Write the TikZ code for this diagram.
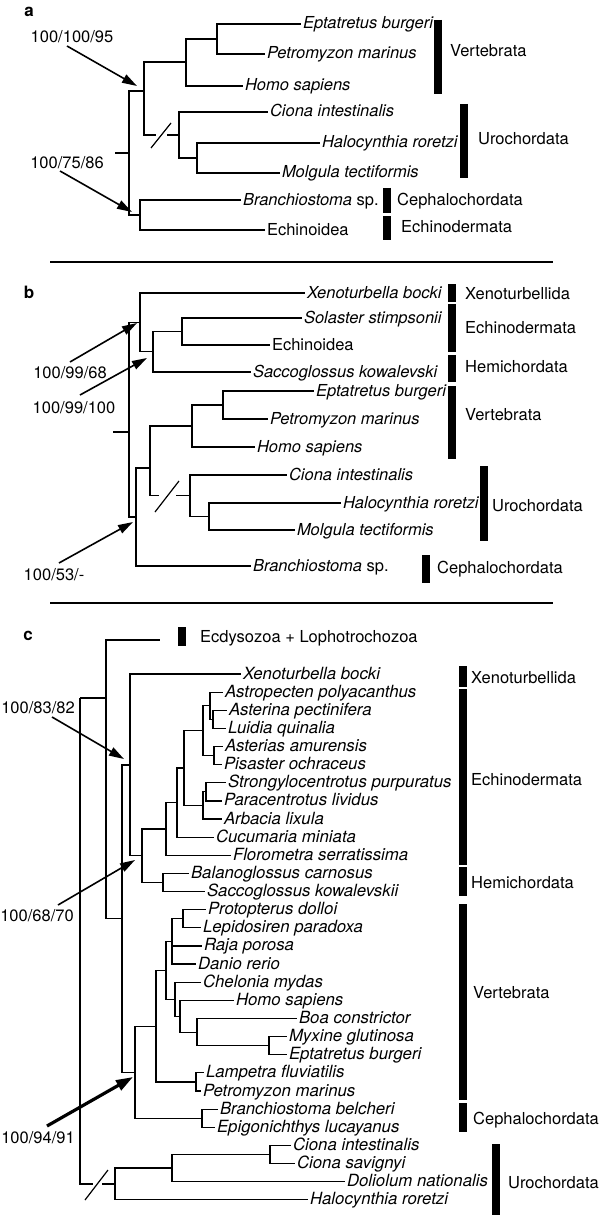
\documentclass[tikz,border=0pt]{standalone}
\usepackage{fontspec}
\setmainfont{TeX Gyre Heros}
\usetikzlibrary{arrows.meta}

\tikzset{
  br/.style={line width=1.2pt},
  leaf/.style={anchor=west, inner sep=0pt, outer xsep=2pt, text height=10pt, text depth=0pt,
    font=\fontsize{16.5}{19}\selectfont\itshape},
  leafc/.style={leaf, font=\fontsize{16.8}{19}\selectfont\itshape},
  clade/.style={anchor=west, inner sep=0pt, text height=10pt, text depth=0pt,
    font=\fontsize{16.5}{19}\selectfont},
  boot/.style={inner sep=0pt, font=\fontsize{16.5}{19}\selectfont},
  bar/.style={line width=7.5pt},
  arr/.style={line width=1.6pt, -{Triangle[length=15pt,width=9pt]}},
  bigarr/.style={line width=3.2pt, -{Triangle[length=17pt,width=11pt]}},
  panel/.style={inner sep=0pt, font=\fontsize{17}{19}\selectfont\bfseries},
  sepline/.style={line width=1.5pt}
}

\begin{document}
\begin{tikzpicture}[x=1pt,y=-1pt]
  \useasboundingbox (0,0) rectangle (600,1217);

  % ---------------- panel a
  \node[panel] (pa) at (29,12) {a};
  \node[leaf] (a1) at (301,24) {Eptatretus burgeri};
  \node[leaf] (a2) at (265,54) {Petromyzon marinus};
  \node[leaf] (a3) at (243,86) {Homo sapiens};
  \node[leaf] (a4) at (268,112) {Ciona intestinalis};
  \node[leaf] (a5) at (320,143) {Halocynthia roretzi};
  \node[leaf] (a6) at (280,173) {Molgula tectiformis};
  \node[leaf] (a7) at (241,200) {Branchiostoma \upshape sp.};
  \node[leaf] (a8) at (265,230) {\upshape Echinoidea};

  \coordinate (na12) at (217,39);
  \coordinate (na123) at (186,62);
  \coordinate (na56) at (197,158);
  \coordinate (na456) at (179,135);
  \coordinate (na16) at (144,91);
  \coordinate (na78) at (140,215);
  \coordinate (ra) at (129,153);
  \coordinate (ra0) at (115,153);
  \coordinate (ka1) at (156,135);
  \coordinate (ka2) at (167,135);

  \draw[br] (na12) |- (a1.west) (na12) |- (a2.west);
  \draw[br] (na123) |- (na12) (na123) |- (a3.west);
  \draw[br] (na56) |- (a5.west) (na56) |- (a6.west);
  \draw[br] (na456) |- (a4.west) (na456) |- (na56);
  \draw[br] (na16) |- (na123) (na16) |- (ka1);
  \draw[br] (ka2) -- (na456);
  \draw[br] (151,148) -- (171,123);
  \draw[br] (na78) |- (a7.west) (na78) |- (a8.west);
  \draw[br] (ra0) -- (ra) (ra) |- (na16) (ra) |- (na78);

  \draw[bar] (438,20) -- (438,94);
  \node[clade] (va) at (450,52) {Vertebrata};
  \draw[bar] (464,104) -- (464,178);
  \node[clade] (ua) at (478,140) {Urochordata};
  \draw[bar] (387,188) -- (387,213);
  \node[clade] (cpa) at (397,200) {Cephalochordata};
  \draw[bar] (387,216) -- (387,240);
  \node[clade] (ea) at (401,227) {Echinodermata};

  \node[boot] (s1) at (72,37) {100/100/95};
  \coordinate (t1) at (67,46);
  \coordinate (h1) at (137,86);
  \draw[arr] (t1) -- (h1);
  \node[boot] (s2) at (67,163) {100/75/86};
  \coordinate (t2) at (60,171);
  \coordinate (h2) at (132,212);
  \draw[arr] (t2) -- (h2);

  \draw[sepline] (50,262) -- (553,262);

  % ---------------- panel b
  \node[panel] (pb) at (29,292) {b};
  \node[leaf] (b1) at (305,293) {Xenoturbella bocki};
  \node[leaf] (b2) at (302,318) {Solaster stimpsonii};
  \node[leaf] (b3) at (270,345) {\upshape Echinoidea};
  \node[leaf] (b4) at (251,372) {Saccoglossus kowalevski};
  \node[leaf] (b5) at (314,391) {Eptatretus burgeri};
  \node[leaf] (b6) at (268,419) {Petromyzon marinus};
  \node[leaf] (b7) at (255,447) {Homo sapiens};
  \node[leaf] (b8) at (287,475) {Ciona intestinalis};
  \node[leaf] (b9) at (341,503) {Halocynthia roretzi};
  \node[leaf] (b10) at (295,530) {Molgula tectiformis};
  \node[leaf] (b11) at (251,566) {Branchiostoma \upshape sp.};

  \coordinate (nb23) at (182,331.5);
  \coordinate (nb234) at (153,351.75);
  \coordinate (nb14) at (140,322.4);
  \coordinate (nb56) at (223,405);
  \coordinate (nb567) at (192,426);
  \coordinate (nb910) at (209,516.5);
  \coordinate (nb810) at (190,495.75);
  \coordinate (nb510) at (150,468);
  \coordinate (nb511) at (136,517);
  \coordinate (rb) at (129,432);
  \coordinate (rb0) at (113,432);
  \coordinate (kb1) at (159,495.75);
  \coordinate (kb2) at (176,495.75);

  \draw[br] (nb23) |- (b2.west) (nb23) |- (b3.west);
  \draw[br] (nb234) |- (nb23) (nb234) |- (b4.west);
  \draw[br] (nb14) |- (b1.west) (nb14) |- (nb234);
  \draw[br] (nb56) |- (b5.west) (nb56) |- (b6.west);
  \draw[br] (nb567) |- (nb56) (nb567) |- (b7.west);
  \draw[br] (nb910) |- (b9.west) (nb910) |- (b10.west);
  \draw[br] (nb810) |- (b8.west) (nb810) |- (nb910);
  \draw[br] (kb2) -- (nb810);
  \draw[br] (155,512) -- (179,481);
  \draw[br] (nb510) |- (nb567) (nb510) |- (kb1);
  \draw[br] (nb511) |- (nb510) (nb511) |- (b11.west);
  \draw[br] (rb0) -- (rb) (rb) |- (nb14) (rb) |- (nb511);

  \draw[bar] (452,284) -- (452,302);
  \node[clade] (xb) at (465,294) {Xenoturbellida};
  \draw[bar] (452,304) -- (452,352);
  \node[clade] (eb) at (465,328) {Echinodermata};
  \draw[bar] (452,355) -- (452,382);
  \node[clade] (hb) at (465,367) {Hemichordata};
  \draw[bar] (452,386) -- (452,459);
  \node[clade] (vb) at (465,415) {Vertebrata};
  \draw[bar] (484,466) -- (484,541);
  \node[clade] (ub) at (492,506) {Urochordata};
  \draw[bar] (426,555) -- (426,583);
  \node[clade] (cpb) at (437,568) {Cephalochordata};

  \node[boot] (s3) at (70,373) {100/99/68};
  \coordinate (t3) at (70,362);
  \coordinate (h3) at (137,323);
  \draw[arr] (t3) -- (h3);
  \node[boot] (s4) at (74,408) {100/99/100};
  \coordinate (t4) at (80,395);
  \coordinate (h4) at (147,358);
  \draw[arr] (t4) -- (h4);
  \node[boot] (s5) at (54,575) {100/53/-};
  \coordinate (t5) at (59,563);
  \coordinate (h5) at (133,522);
  \draw[arr] (t5) -- (h5);

  \draw[sepline] (50,603) -- (553,603);

  % ---------------- panel c
  \node[panel] (pc) at (28,636) {c};
  \foreach \i/\xx/\txt in {0/241/Xenoturbella bocki, 1/223/Astropecten polyacanthus,
      2/227/Asterina pectinifera, 3/226/Luidia quinalia, 4/223/Asterias amurensis,
      5/222/Pisaster ochraceus, 6/226/Strongylocentrotus purpuratus,
      7/222/Paracentrotus lividus, 8/222/Arbacia lixula, 9/214/Cucumaria miniata,
      10/231/Florometra serratissima, 11/189/Balanoglossus carnosus,
      12/205/Saccoglossus kowalevskii, 13/206/Protopterus dolloi,
      14/201/Lepidosiren paradoxa, 15/202/Raja porosa, 16/196/Danio rerio,
      17/201/Chelonia mydas, 18/234/Homo sapiens, 19/297/Boa constrictor,
      20/287/Myxine glutinosa, 21/287/Eptatretus burgeri, 22/204/Lampetra fluviatilis,
      23/201/Petromyzon marinus, 24/218/Branchiostoma belcheri,
      25/215/Epigonichthys lucayanus, 26/291/Ciona intestinalis,
      27/295/Ciona savignyi, 28/345/Doliolum nationalis, 29/308/Halocynthia roretzi}
    \node[leafc] (c\i) at (\xx,{674+18.13*\i}) {\txt};

  \node[clade] (ecl) at (200,637) {Ecdysozoa + Lophotrochozoa};
  \draw[bar] (182,627) -- (182,646);
  \coordinate (ecd) at (160,640);

  \coordinate (nc23) at (213,719.35);
  \coordinate (nc123) at (210,705.7);
  \coordinate (nc45) at (214,755.6);
  \coordinate (nc15) at (203,730.7);
  \coordinate (nc67) at (206,791.85);
  \coordinate (nc68) at (203,805.4);
  \coordinate (nc18) at (184,768);
  \coordinate (nc19) at (177,802.6);
  \coordinate (nc110) at (166,829);
  \coordinate (nc1112) at (163,882.5);
  \coordinate (nc112) at (142,855.7);
  \coordinate (nc012) at (130,764.9);
  \coordinate (nc1314) at (183,918.8);
  \coordinate (nc1316) at (172,941.4);
  \coordinate (nc2021) at (269,1045.7);
  \coordinate (nc1921) at (197,1032.1);
  \coordinate (nc1821) at (180,1016.2);
  \coordinate (nc1721) at (175,999.2);
  \coordinate (nc1321) at (166,970.3);
  \coordinate (nc2223) at (196,1082);
  \coordinate (nc1323) at (156,1026.1);
  \coordinate (nc2425) at (202,1118.2);
  \coordinate (nc1325) at (135,1072.2);
  \coordinate (nc025) at (122,918.5);
  \coordinate (ncE) at (106,698);
  \coordinate (nc2627) at (270,1154.5);
  \coordinate (nc2628) at (172,1168);
  \coordinate (nc2629) at (115,1183.9);
  \coordinate (rc) at (80,698);
  \coordinate (kc1) at (93,1183.9);
  \coordinate (kc2) at (102,1183.9);

  % echinoderms + hemichordates
  \draw[br] (nc23) |- (c2.west) (nc23) |- (c3.west);
  \draw[br] (nc123) |- (c1.west) (nc123) |- (nc23);
  \draw[br] (nc45) |- (c4.west) (nc45) |- (c5.west);
  \draw[br] (nc15) |- (nc123) (nc15) |- (nc45);
  \draw[br] (nc67) |- (c6.west) (nc67) |- (c7.west);
  \draw[br] (nc68) |- (nc67) (nc68) |- (c8.west);
  \draw[br] (nc18) |- (nc15) (nc18) |- (nc68);
  \draw[br] (nc19) |- (nc18) (nc19) |- (c9.west);
  \draw[br] (nc110) |- (nc19) (nc110) |- (c10.west);
  \draw[br] (nc1112) |- (c11.west) (nc1112) |- (c12.west);
  \draw[br] (nc112) |- (nc110) (nc112) |- (nc1112);
  \draw[br] (nc012) |- (c0.west) (nc012) |- (nc112);
  % vertebrates + cephalochordates
  \draw[br] (nc1314) |- (c13.west) (nc1314) |- (c14.west);
  \draw[br] (nc1316) |- (nc1314) (nc1316) |- (c15.west) (nc1316) |- (c16.west);
  \draw[br] (nc2021) |- (c20.west) (nc2021) |- (c21.west);
  \draw[br] (nc1921) |- (c19.west) (nc1921) |- (nc2021);
  \draw[br] (nc1821) |- (c18.west) (nc1821) |- (nc1921);
  \draw[br] (nc1721) |- (c17.west) (nc1721) |- (nc1821);
  \draw[br] (nc1321) |- (nc1316) (nc1321) |- (nc1721);
  \draw[br] (nc2223) |- (c22.west) (nc2223) |- (c23.west);
  \draw[br] (nc1323) |- (nc1321) (nc1323) |- (nc2223);
  \draw[br] (nc2425) |- (c24.west) (nc2425) |- (c25.west);
  \draw[br] (nc1325) |- (nc1323) (nc1325) |- (nc2425);
  \draw[br] (nc025) |- (nc012) (nc025) |- (nc1325);
  \draw[br] (ncE) |- (ecd) (ncE) |- (nc025);
  % urochordates
  \draw[br] (nc2627) |- (c26.west) (nc2627) |- (c27.west);
  \draw[br] (nc2628) |- (nc2627) (nc2628) |- (c28.west);
  \draw[br] (nc2629) |- (nc2628) (nc2629) |- (c29.west);
  \draw[br] (rc) -- (ncE) (rc) |- (kc1);
  \draw[br] (kc2) -- (nc2629);
  \draw[br] (85,1200) -- (108,1170);

  \draw[bar] (463,666) -- (463,687);
  \node[clade] (xc) at (471,678) {Xenoturbellida};
  \draw[bar] (463,689) -- (463,865);
  \node[clade] (ec) at (471,780) {Echinodermata};
  \draw[bar] (463,867) -- (463,896);
  \node[clade] (hc) at (471,883) {Hemichordata};
  \draw[bar] (463,904) -- (463,1100);
  \node[clade] (vc) at (473,993) {Vertebrata};
  \draw[bar] (463,1103) -- (463,1132);
  \node[clade] (cpc) at (473,1119) {Cephalochordata};
  \draw[bar] (496,1144) -- (496,1215);
  \node[clade] (uc) at (508,1183) {Urochordata};

  \node[boot] (s6) at (38,708) {100/83/82};
  \coordinate (t6) at (52,717);
  \coordinate (h6) at (124,759);
  \draw[arr] (t6) -- (h6);
  \node[boot] (s7) at (37,916) {100/68/70};
  \coordinate (t7) at (58,905);
  \coordinate (h7) at (135,860);
  \draw[arr] (t7) -- (h7);
  \node[boot] (s8) at (38,1138) {100/94/91};
  \coordinate (t8) at (47,1126);
  \coordinate (h8) at (133,1077);
  \draw[bigarr] (t8) -- (h8);
\end{tikzpicture}
\end{document}
